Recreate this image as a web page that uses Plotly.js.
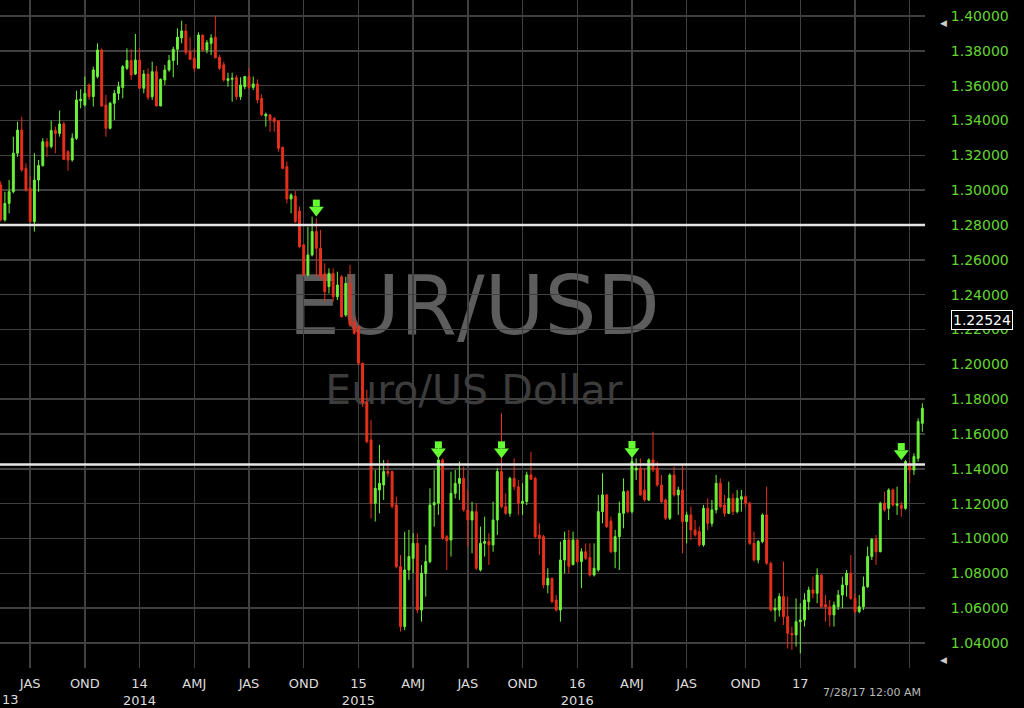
<!DOCTYPE html>
<html>
<head>
<meta charset="utf-8">
<script src="https://cdn.plot.ly/plotly-3.0.1.min.js"></script>
<style>
  html, body { margin: 0; padding: 0; background: #000; }
  #chart { width: 1024px; height: 708px; }
</style>
</head>
<body>
<div id="chart"></div>
<script>
// EUR/USD weekly candles; the first bar is the week of 2013-05-12
const firstWeek = [2013, 4, 12];

const openPx = [
  1.3030, 1.2829, 1.2924, 1.2991, 1.3212, 1.3345, 1.3125, 1.3010, 1.2819, 1.3058,
  1.3141, 1.3278, 1.3250, 1.3342, 1.3326, 1.3380, 1.3221, 1.3173, 1.3298, 1.3514,
  1.3489, 1.3604, 1.3537, 1.3652, 1.3805, 1.3489, 1.3355, 1.3499, 1.3556, 1.3590,
  1.3700, 1.3744, 1.3667, 1.3747, 1.3585, 1.3667, 1.3537, 1.3680, 1.3483, 1.3633,
  1.3690, 1.3744, 1.3809, 1.3874, 1.3914, 1.3795, 1.3757, 1.3700, 1.3891, 1.3805,
  1.3843, 1.3878, 1.3763, 1.3720, 1.3630, 1.3637, 1.3646, 1.3537, 1.3594, 1.3652,
  1.3590, 1.3610, 1.3527, 1.3426, 1.3432, 1.3413, 1.3399, 1.3246, 1.3135, 1.2949,
  1.2966, 1.2880, 1.2686, 1.2514, 1.2628, 1.2762, 1.2666, 1.2520, 1.2446, 1.2522,
  1.2388, 1.2503, 1.2283, 1.2465, 1.2245, 1.2216, 1.2006, 1.1780, 1.1565, 1.1202,
  1.1278, 1.1307, 1.1384, 1.1384, 1.1192, 1.0838, 1.0494, 1.0819, 1.0886, 1.0972,
  1.0589, 1.0800, 1.0867, 1.1192, 1.1202, 1.1451, 1.1010, 1.0991, 1.1259, 1.1316,
  1.1345, 1.1164, 1.1106, 1.1154, 1.0819, 1.0972, 1.0982, 1.0963, 1.1106, 1.1384,
  1.1183, 1.1144, 1.1345, 1.1297, 1.1202, 1.1212, 1.1365, 1.1345, 1.1020, 1.1010,
  1.0733, 1.0771, 1.0646, 1.0589, 1.0876, 1.0991, 1.0850, 1.0991, 1.0867, 1.0924,
  1.0890, 1.0790, 1.0819, 1.1154, 1.1250, 1.1100, 1.0924, 1.1010, 1.1144, 1.1269,
  1.1154, 1.1393, 1.1403, 1.1278, 1.1221, 1.1451, 1.1403, 1.1307, 1.1221, 1.1116,
  1.1364, 1.1250, 1.1278, 1.1097, 1.1135, 1.1049, 1.1039, 1.0963, 1.1173, 1.1087,
  1.1164, 1.1317, 1.1192, 1.1144, 1.1230, 1.1154, 1.1225, 1.1240, 1.1202, 1.0972,
  1.0876, 1.0982, 1.1135, 1.0857, 1.0589, 1.0589, 1.0666, 1.0551, 1.0455, 1.0446,
  1.0522, 1.0532, 1.0637, 1.0704, 1.0685, 1.0790, 1.0620, 1.0608, 1.0561, 1.0608,
  1.0675, 1.0733, 1.0800, 1.0656, 1.0580, 1.0608, 1.0723, 1.0896, 1.0995, 1.0924,
  1.1202, 1.1173, 1.1278, 1.1190, 1.1192, 1.1173, 1.1422, 1.1393, 1.1460, 1.1661
];

const highPx = [
  1.3050, 1.2991, 1.3058, 1.3307, 1.3393, 1.3422, 1.3154, 1.3078, 1.3212, 1.3173,
  1.3298, 1.3298, 1.3399, 1.3365, 1.3457, 1.3393, 1.3231, 1.3326, 1.3571, 1.3580,
  1.3652, 1.3613, 1.3709, 1.3843, 1.3814, 1.3547, 1.3508, 1.3575, 1.3623, 1.3719,
  1.3814, 1.3809, 1.3897, 1.3814, 1.3690, 1.3700, 1.3738, 1.3713, 1.3642, 1.3719,
  1.3776, 1.3824, 1.3929, 1.3973, 1.3954, 1.3878, 1.3814, 1.3906, 1.3891, 1.3862,
  1.3895, 1.4000, 1.3776, 1.3738, 1.3674, 1.3674, 1.3661, 1.3648, 1.3656, 1.3703,
  1.3652, 1.3636, 1.3550, 1.3445, 1.3436, 1.3418, 1.3399, 1.3250, 1.3164, 1.2982,
  1.2997, 1.2905, 1.2690, 1.2790, 1.2848, 1.2838, 1.2771, 1.2580, 1.2551, 1.2551,
  1.2532, 1.2513, 1.2503, 1.2570, 1.2273, 1.2226, 1.2010, 1.1853, 1.1680, 1.1393,
  1.1537, 1.1451, 1.1451, 1.1390, 1.1240, 1.0905, 1.1039, 1.1049, 1.1030, 1.1030,
  1.0848, 1.0963, 1.1288, 1.1393, 1.1527, 1.1460, 1.1020, 1.1384, 1.1393, 1.1441,
  1.1412, 1.1278, 1.1211, 1.1202, 1.1068, 1.1125, 1.1030, 1.1211, 1.1403, 1.1719,
  1.1259, 1.1355, 1.1460, 1.1336, 1.1317, 1.1384, 1.1498, 1.1355, 1.1087, 1.1020,
  1.0829, 1.0775, 1.0675, 1.0982, 1.1039, 1.1049, 1.1039, 1.0998, 1.0943, 1.0972,
  1.0972, 1.0972, 1.1250, 1.1374, 1.1255, 1.1125, 1.1049, 1.1211, 1.1345, 1.1278,
  1.1460, 1.1460, 1.1460, 1.1403, 1.1460, 1.1613, 1.1441, 1.1364, 1.1230, 1.1374,
  1.1412, 1.1297, 1.1422, 1.1154, 1.1183, 1.1106, 1.1068, 1.1192, 1.1231, 1.1221,
  1.1365, 1.1345, 1.1250, 1.1326, 1.1259, 1.1278, 1.1278, 1.1250, 1.1211, 1.1039,
  1.0991, 1.1144, 1.1297, 1.0867, 1.0656, 1.0685, 1.0867, 1.0666, 1.0494, 1.0656,
  1.0628, 1.0685, 1.0723, 1.0781, 1.0829, 1.0795, 1.0675, 1.0647, 1.0637, 1.0704,
  1.0781, 1.0819, 1.0905, 1.0685, 1.0675, 1.0781, 1.0953, 1.1001, 1.1020, 1.1211,
  1.1269, 1.1288, 1.1288, 1.1297, 1.1211, 1.1451, 1.1441, 1.1489, 1.1690, 1.1776
];

const lowPx = [
  1.2820, 1.2819, 1.2867, 1.2982, 1.3192, 1.3106, 1.2991, 1.2815, 1.2762, 1.2991,
  1.3135, 1.3192, 1.3240, 1.3212, 1.3307, 1.3173, 1.3112, 1.3164, 1.3288, 1.3470,
  1.3480, 1.3518, 1.3480, 1.3642, 1.3480, 1.3307, 1.3349, 1.3403, 1.3518, 1.3527,
  1.3690, 1.3633, 1.3661, 1.3585, 1.3556, 1.3518, 1.3518, 1.3483, 1.3483, 1.3604,
  1.3680, 1.3648, 1.3719, 1.3843, 1.3776, 1.3747, 1.3680, 1.3700, 1.3795, 1.3786,
  1.3776, 1.3757, 1.3690, 1.3623, 1.3594, 1.3508, 1.3518, 1.3518, 1.3579, 1.3579,
  1.3575, 1.3499, 1.3426, 1.3365, 1.3336, 1.3336, 1.3221, 1.3120, 1.2924, 1.2867,
  1.2813, 1.2666, 1.2505, 1.2505, 1.2619, 1.2503, 1.2484, 1.2360, 1.2407, 1.2360,
  1.2369, 1.2268, 1.2273, 1.2216, 1.2170, 1.1996, 1.1755, 1.1546, 1.1115, 1.1097,
  1.1144, 1.1221, 1.1355, 1.1173, 1.0829, 1.0465, 1.0474, 1.0762, 1.0800, 1.0570,
  1.0522, 1.0666, 1.0857, 1.1068, 1.1135, 1.0991, 1.0819, 1.0896, 1.1230, 1.1221,
  1.1154, 1.0953, 1.0915, 1.0819, 1.0810, 1.0896, 1.0848, 1.0924, 1.1020, 1.1173,
  1.1135, 1.1125, 1.1278, 1.1135, 1.1135, 1.1192, 1.1336, 1.1001, 1.0905, 1.0714,
  1.0685, 1.0627, 1.0580, 1.0522, 1.0800, 1.0800, 1.0845, 1.0857, 1.0714, 1.0876,
  1.0781, 1.0781, 1.0809, 1.1087, 1.1060, 1.0915, 1.0829, 1.0819, 1.1058, 1.1144,
  1.1144, 1.1336, 1.1245, 1.1211, 1.1215, 1.1383, 1.1297, 1.1202, 1.1106, 1.1106,
  1.1240, 1.1135, 1.0915, 1.0972, 1.0991, 1.1010, 1.0953, 1.0953, 1.1049, 1.1068,
  1.1144, 1.1173, 1.1125, 1.1140, 1.1135, 1.1144, 1.1154, 1.1180, 1.0963, 1.0867,
  1.0857, 1.0972, 1.0848, 1.0580, 1.0522, 1.0551, 1.0503, 1.0369, 1.0360, 1.0379,
  1.0340, 1.0494, 1.0589, 1.0656, 1.0628, 1.0599, 1.0522, 1.0494, 1.0494, 1.0589,
  1.0599, 1.0666, 1.0647, 1.0570, 1.0570, 1.0589, 1.0714, 1.0876, 1.0848, 1.0920,
  1.1154, 1.1106, 1.1183, 1.1135, 1.1125, 1.1164, 1.1317, 1.1364, 1.1441, 1.1613
];

const closePx = [
  1.2830, 1.2924, 1.2991, 1.3212, 1.3345, 1.3116, 1.3001, 1.2819, 1.3058, 1.3141,
  1.3278, 1.3250, 1.3342, 1.3326, 1.3380, 1.3177, 1.3173, 1.3298, 1.3518, 1.3522,
  1.3556, 1.3537, 1.3690, 1.3805, 1.3483, 1.3355, 1.3499, 1.3556, 1.3594, 1.3709,
  1.3744, 1.3661, 1.3747, 1.3585, 1.3667, 1.3533, 1.3680, 1.3483, 1.3636, 1.3690,
  1.3744, 1.3809, 1.3878, 1.3914, 1.3790, 1.3751, 1.3700, 1.3891, 1.3805, 1.3847,
  1.3874, 1.3760, 1.3700, 1.3633, 1.3640, 1.3642, 1.3537, 1.3604, 1.3652, 1.3590,
  1.3610, 1.3518, 1.3432, 1.3436, 1.3403, 1.3393, 1.3240, 1.3125, 1.2949, 1.2972,
  1.2819, 1.2676, 1.2514, 1.2628, 1.2762, 1.2666, 1.2503, 1.2417, 1.2522, 1.2388,
  1.2455, 1.2273, 1.2465, 1.2226, 1.2178, 1.2006, 1.1780, 1.1556, 1.1201, 1.1288,
  1.1317, 1.1384, 1.1374, 1.1183, 1.0838, 1.0494, 1.0819, 1.0896, 1.0972, 1.0589,
  1.0800, 1.0867, 1.1192, 1.1206, 1.1451, 1.1001, 1.0987, 1.1259, 1.1316, 1.1345,
  1.1164, 1.1106, 1.1154, 1.0829, 1.0972, 1.0982, 1.0963, 1.1106, 1.1384, 1.1183,
  1.1144, 1.1345, 1.1297, 1.1202, 1.1212, 1.1365, 1.1340, 1.1010, 1.1001, 1.0733,
  1.0771, 1.0637, 1.0589, 1.0876, 1.0991, 1.0840, 1.0991, 1.0867, 1.0924, 1.0886,
  1.0790, 1.0829, 1.1154, 1.1250, 1.1068, 1.0924, 1.1010, 1.1144, 1.1269, 1.1154,
  1.1441, 1.1403, 1.1250, 1.1221, 1.1451, 1.1393, 1.1307, 1.1211, 1.1116, 1.1364,
  1.1250, 1.1278, 1.1097, 1.1135, 1.1049, 1.1020, 1.0963, 1.1173, 1.1087, 1.1164,
  1.1317, 1.1183, 1.1144, 1.1230, 1.1154, 1.1230, 1.1240, 1.1202, 1.0972, 1.0876,
  1.0982, 1.1135, 1.0857, 1.0589, 1.0599, 1.0666, 1.0551, 1.0455, 1.0446, 1.0522,
  1.0532, 1.0647, 1.0704, 1.0685, 1.0790, 1.0608, 1.0608, 1.0561, 1.0618, 1.0675,
  1.0733, 1.0800, 1.0656, 1.0580, 1.0608, 1.0723, 1.0896, 1.0995, 1.0924, 1.1202,
  1.1164, 1.1278, 1.1192, 1.1197, 1.1173, 1.1441, 1.1393, 1.1470, 1.1671, 1.1747
];

// Quarter boundaries (first weekly bar of each quarter) and their labels
const quarterBars = [
  '2013-06-30', '2013-09-29', '2013-12-29', '2014-03-30', '2014-06-29', '2014-09-28',
  '2014-12-28', '2015-03-29', '2015-06-28', '2015-09-27', '2015-12-27', '2016-03-27',
  '2016-06-26', '2016-10-02', '2017-01-01', '2017-04-02', '2017-07-02'
];
const quarterLabels = [
  'JAS', 'OND', '14<br>2014', 'AMJ', 'JAS', 'OND',
  '15<br>2015', 'AMJ', 'JAS', 'OND', '16<br>2016', 'AMJ',
  'JAS', 'OND', '17', '', ''
];

// Price axis ticks
const priceTicks = [1.04, 1.06, 1.08, 1.10, 1.12, 1.14, 1.16, 1.18, 1.20,
                    1.22, 1.24, 1.26, 1.28, 1.30, 1.32, 1.34, 1.36, 1.38, 1.40];
const priceTickText = ['1.04000', '1.06000', '1.08000', '1.10000', '1.12000', '1.14000',
                       '1.16000', '1.18000', '1.20000', '1.22000', '1.24000', '1.26000',
                       '1.28000', '1.30000', '1.32000', '1.34000', '1.36000', '1.38000', '1.40000'];

// Horizontal support / resistance levels
const levels = [1.2800, 1.1425];

// Touch markers: bar index and the price at the arrow tip
const arrowBars = [75, 104, 119, 150, 214];
const arrowTips = [1.2848, 1.1460, 1.1460, 1.1462, 1.1450];

// Last quoted price tag
const lastQuote = 1.22524;

const UP = '#6cf23a';
const DOWN = '#e8301c';
const ARROW = '#66ff33';
const GRID = '#404040';
const FONT = 'DejaVu Sans, Verdana, sans-serif';

const weeks = openPx.map((_, i) => {
  const t = Date.UTC(firstWeek[0], firstWeek[1], firstWeek[2]) + i * 7 * 86400000;
  return new Date(t).toISOString().slice(0, 10);
});

const yRange = [1.02561, 1.40919];
const plotH = 668;
const pricePerPx = (yRange[1] - yRange[0]) / plotH;

const candles = {
  type: 'candlestick',
  x: weeks,
  open: openPx, high: highPx, low: lowPx, close: closePx,
  increasing: { line: { color: UP, width: 1 }, fillcolor: UP },
  decreasing: { line: { color: DOWN, width: 1 }, fillcolor: DOWN },
  whiskerwidth: 0,
  hoverinfo: 'skip',
  showlegend: false
};

const arrowX = arrowBars.map(i => weeks[i]);
const arrowHeads = {
  type: 'scatter', mode: 'markers',
  x: arrowX,
  y: arrowTips.map(p => p + 6.5 * pricePerPx),
  marker: { symbol: 'triangle-down', size: 13, color: ARROW, line: { width: 0 } },
  hoverinfo: 'skip', showlegend: false, cliponaxis: false
};
const arrowShafts = {
  type: 'scatter', mode: 'markers',
  x: arrowX,
  y: arrowTips.map(p => p + 13.5 * pricePerPx),
  marker: { symbol: 'square', size: 7, color: ARROW, line: { width: 0 } },
  hoverinfo: 'skip', showlegend: false, cliponaxis: false
};

const levelShapes = levels.map(v => ({
  type: 'line', xref: 'paper', x0: 0, x1: 1, yref: 'y', y0: v, y1: v,
  line: { color: '#e6e6e6', width: 2.5 }, layer: 'above'
}));

const watermark = [
  { text: 'EUR/USD', size: 82, color: '#5d5d5d', yc: 0.551 },
  { text: 'Euro/US Dollar', size: 41, color: '#3c3c3c', yc: 0.421 }
].map(w => ({
  type: 'rect', xref: 'paper', yref: 'paper',
  x0: 0.2124, x1: 0.8124, y0: w.yc - 0.05, y1: w.yc + 0.05,
  line: { width: 0 }, fillcolor: 'rgba(0,0,0,0)', layer: 'below',
  label: { text: w.text, textposition: 'middle center',
           font: { family: FONT, size: w.size, color: w.color } }
}));

const layout = {
  width: 1024, height: 708,
  margin: { l: 0, r: 99, t: 0, b: 40, pad: 0 },
  paper_bgcolor: '#000', plot_bgcolor: '#000',
  showlegend: false,
  boxgap: 0.35,
  font: { family: FONT, color: '#dddddd' },
  xaxis: {
    type: 'date',
    range: ['2013-05-10 20:00', '2017-07-27 10:00'],
    tickmode: 'array', tickvals: quarterBars, ticktext: quarterLabels,
    showgrid: true, gridcolor: GRID, gridwidth: 1.5,
    ticks: 'outside', ticklen: 3, tickcolor: 'rgba(0,0,0,0)',
    tickfont: { family: FONT, size: 13, color: '#dddddd' },
    zeroline: false, showline: false, fixedrange: true,
    rangeslider: { visible: false }
  },
  yaxis: {
    side: 'right',
    range: yRange,
    tickmode: 'array', tickvals: priceTicks, ticktext: priceTickText,
    showgrid: true, gridcolor: GRID, gridwidth: 1.5,
    ticks: 'outside', ticklen: 22, tickcolor: 'rgba(0,0,0,0)',
    tickfont: { family: FONT, size: 14, color: '#63d631' },
    zeroline: false, showline: false, fixedrange: true
  },
  shapes: watermark.concat(levelShapes),
  annotations: [
    { xref: 'paper', yref: 'y', x: 1.0611, y: lastQuote, text: '1.22524',
      showarrow: false, xanchor: 'center', yanchor: 'middle',
      font: { family: FONT, size: 14, color: '#ffffff' },
      bgcolor: '#000000', bordercolor: '#ffffff', borderwidth: 1, borderpad: 1 },
    { xref: 'paper', yref: 'paper', x: 943 / 925, y: (plotH - 23) / plotH, text: '\u25C0',
      showarrow: false, xanchor: 'center', yanchor: 'middle',
      font: { family: FONT, size: 9, color: '#cccccc' } },
    { xref: 'paper', yref: 'paper', x: 943 / 925, y: (plotH - 660) / plotH, text: '\u25C0',
      showarrow: false, xanchor: 'center', yanchor: 'middle',
      font: { family: FONT, size: 9, color: '#cccccc' } },
    { xref: 'paper', yref: 'paper', x: 0, y: (plotH - 699) / plotH, text: '13',
      showarrow: false, xanchor: 'left', yanchor: 'middle',
      font: { family: FONT, size: 13, color: '#dddddd' } },
    { xref: 'paper', yref: 'paper', x: 923 / 925, y: (plotH - 692) / plotH, text: '7/28/17 12:00 AM',
      showarrow: false, xanchor: 'right', yanchor: 'middle',
      font: { family: FONT, size: 11, color: '#bbbbbb' } }
  ]
};

Plotly.newPlot('chart', [candles, arrowShafts, arrowHeads], layout,
               { staticPlot: true, displayModeBar: false });
</script>
</body>
</html>
